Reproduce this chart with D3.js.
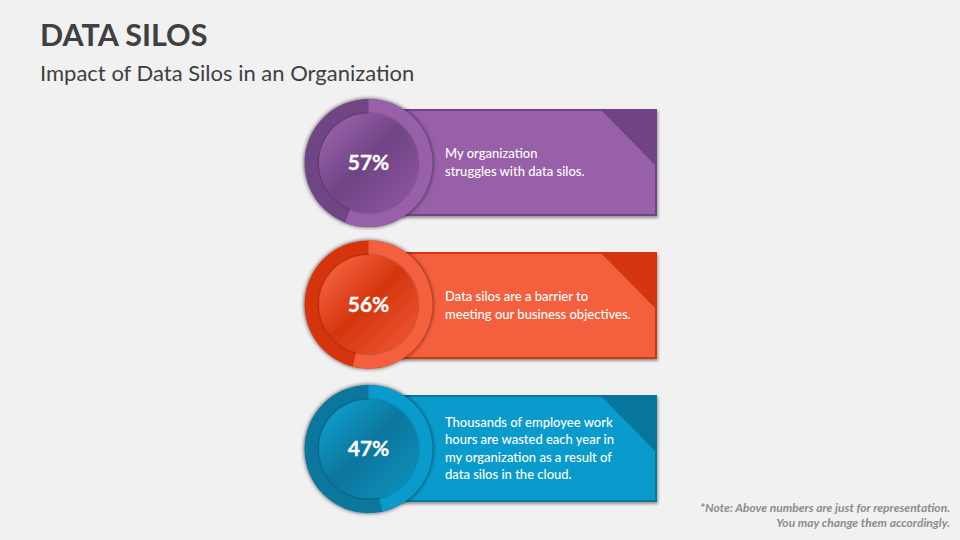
<!DOCTYPE html>
<html>
<head>
<meta charset="utf-8">
<script src="https://cdn.jsdelivr.net/npm/d3@7"></script>
<style>
html, body { margin: 0; padding: 0; background: #f1f1f1; }
svg { display: block; }
text { font-family: Lato, "Open Sans", sans-serif; }
</style>
</head>
<body>
<svg id="chart" width="960" height="540"></svg>
<script>
// values
var categories = ["organization", "barrier", "hours"];
var percents = [57, 56, 47];
// how far the light ring really goes round, not quite the printed number
var ringShares = [56, 54, 46.5];
var labels = [
    ["My organization", "struggles with data silos."],
    ["Data silos are a barrier to", "meeting our business objectives."],
    ["Thousands of employee work", "hours are wasted each year in", "my organization as a result of", "data silos in the cloud."]
];
var lightColors = ["#9760a8", "#f4603d", "#099bcb"];
var darkColors = ["#704484", "#d4350e", "#07769c"];
var midColors = ["#8a559b", "#ea5330", "#0a8db9"];

var svg = d3.select("#chart");

svg.append("rect").attr("width", 960).attr("height", 540).attr("fill", "#f1f1f1");

var defs = svg.append("defs");

var circleShadow = defs.append("filter").attr("id", "circleShadow")
    .attr("x", "-20%").attr("y", "-20%").attr("width", "140%").attr("height", "140%");
circleShadow.append("feDropShadow").attr("dx", 0).attr("dy", 0).attr("stdDeviation", 2)
    .attr("flood-color", "#000").attr("flood-opacity", 0.75);

var innerShadow = defs.append("filter").attr("id", "innerShadow")
    .attr("x", "-20%").attr("y", "-20%").attr("width", "140%").attr("height", "140%");
innerShadow.append("feDropShadow").attr("dx", 0).attr("dy", 0).attr("stdDeviation", 1)
    .attr("flood-color", "#000").attr("flood-opacity", 0.5);

var boxShadow = defs.append("filter").attr("id", "boxShadow")
    .attr("x", "-5%").attr("y", "-10%").attr("width", "110%").attr("height", "120%");
boxShadow.append("feDropShadow").attr("dx", 1).attr("dy", 2).attr("stdDeviation", 1.5)
    .attr("flood-color", "#000").attr("flood-opacity", 0.4);

categories.forEach(function(c, i) {
    var grad = defs.append("linearGradient").attr("id", "grad" + i)
        .attr("x1", "12%").attr("y1", "12%").attr("x2", "88%").attr("y2", "88%");
    grad.append("stop").attr("offset", "0%").attr("stop-color", lightColors[i]);
    grad.append("stop").attr("offset", "48%").attr("stop-color", darkColors[i]);
    grad.append("stop").attr("offset", "100%").attr("stop-color", midColors[i]);
});

// headings
svg.append("text").attr("x", 40).attr("y", 45.5)
    .attr("font-size", 30.5).attr("font-weight", 700).attr("fill", "#404040")
    .text("DATA SILOS");
svg.append("text").attr("x", 40).attr("y", 81)
    .attr("font-size", 22).attr("fill", "#404040")
    .text("Impact of Data Silos in an Organization");

// rows
var y = d3.scalePoint().domain(categories).range([109, 395]);
var pct = d3.scaleLinear().domain([0, 100]).range([0, 2 * Math.PI]);
// circle centre inside each row, the middle one sits a little higher
var circleY = d3.scaleOrdinal().domain(categories).range([54, 52.5, 54]);

var boxLeft = 400, boxRight = 657, boxH = 107;
var circleX = 368.5;

var row = svg.selectAll("g.row").data(categories).enter().append("g")
    .attr("class", "row")
    .attr("transform", function(d) { return "translate(0," + y(d) + ")"; });

// box with darker border, and the folded corner
row.append("rect")
    .attr("x", boxLeft).attr("y", 0).attr("width", boxRight - boxLeft).attr("height", boxH)
    .attr("fill", function(d, i) { return darkColors[i]; })
    .attr("filter", "url(#boxShadow)");
row.append("rect")
    .attr("x", boxLeft).attr("y", 2).attr("width", boxRight - boxLeft - 2).attr("height", boxH - 4)
    .attr("fill", function(d, i) { return lightColors[i]; });
row.append("path")
    .attr("d", d3.line()([[600, 0], [boxRight, 0], [boxRight, 58]]))
    .attr("fill", function(d, i) { return darkColors[i]; });

// ring and inner disc
var outerArc = d3.arc().innerRadius(0).outerRadius(64);

row.append("circle")
    .attr("cx", circleX).attr("cy", circleY).attr("r", 64)
    .attr("fill", function(d, i) { return darkColors[i]; })
    .attr("filter", "url(#circleShadow)");
row.append("path")
    .attr("transform", function(d) { return "translate(" + circleX + "," + circleY(d) + ")"; })
    .attr("d", function(d, i) {
        return outerArc({ startAngle: 0, endAngle: pct(ringShares[i]) });
    })
    .attr("fill", function(d, i) { return lightColors[i]; });
row.append("circle")
    .attr("cx", circleX).attr("cy", circleY).attr("r", 49.5)
    .attr("fill", function(d, i) { return "url(#grad" + i + ")"; })
    .attr("filter", "url(#innerShadow)");

row.append("text")
    .attr("x", circleX).attr("y", function(d) { return circleY(d) + 7; })
    .attr("text-anchor", "middle")
    .attr("font-size", 21).attr("font-weight", 700).attr("fill", "#fff")
    .attr("stroke", "#fff").attr("stroke-width", 0.3)
    .text(function(d, i) { return percents[i] + "%"; });

row.each(function(d, i) {
    var lines = labels[i];
    var top = boxH / 2 - (lines.length - 1) * 17.3 / 2 + 4.5;
    d3.select(this).selectAll("text.label").data(lines).enter().append("text")
        .attr("class", "label")
        .attr("x", 445)
        .attr("y", function(l, j) { return top + j * 17.3; })
        .attr("font-size", 13).attr("font-weight", 500).attr("fill", "#fff")
        .text(function(l) { return l; });
});

// note
var noteLines = ["*Note: Above numbers are just for representation.", "You may change them accordingly."];
svg.selectAll("text.note").data(noteLines).enter().append("text")
    .attr("class", "note")
    .attr("x", 950)
    .attr("y", function(d, i) { return 512 + i * 15; })
    .attr("text-anchor", "end")
    .attr("font-size", 12).attr("font-weight", 700).attr("font-style", "italic")
    .attr("fill", "#8c8c8c")
    .text(function(d) { return d; });
</script>
</body>
</html>
